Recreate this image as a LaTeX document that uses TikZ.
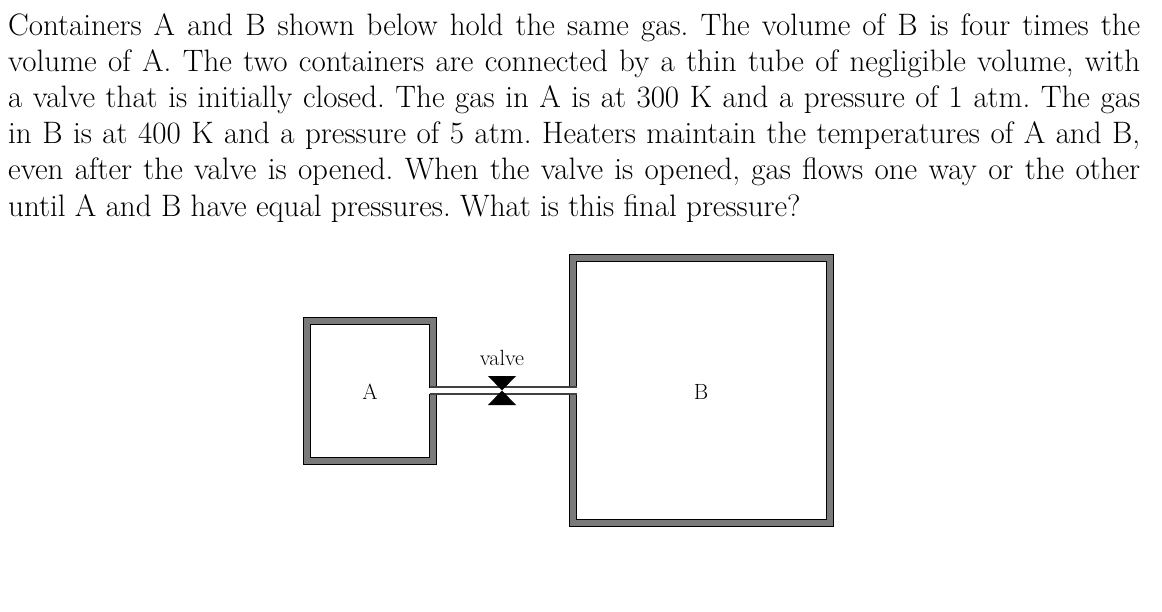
\documentclass[tikz,border=0pt]{standalone}
\begin{document}
\begin{tikzpicture}[x=1pt,y=-1pt,
  wall/.style={draw=black,line width=1pt,fill=black!52},
  cavity/.style={draw=black,line width=1pt,fill=white},
  tube/.style={draw=black!75,line width=1.3pt},
  lbl/.style={font=\fontsize{22}{26}\selectfont,inner sep=0pt}]
\useasboundingbox (0,0) rectangle (1162,612);
\node[anchor=north west,inner sep=0pt,text width=1132pt,align=justify,
  font=\fontsize{31}{36.2}\selectfont\frenchspacing] (txt) at (8,13) {Containers A and B shown below hold the same gas. The volume of B is four times the\linebreak
volume of A. The two containers are connected by a thin tube of negligible volume, with\linebreak
a valve that is initially closed. The gas in A is at 300 K and a pressure of 1 atm. The gas\linebreak
in B is at 400 K and a pressure of 5 atm. Heaters maintain the temperatures of A and B,\linebreak
even after the valve is opened. When the valve is opened, gas flows one way or the other\linebreak
until A and B have equal pressures. What is this final pressure?};
% container A
\draw[wall] (303.5,317.5) rectangle (436.5,464.5);
\draw[cavity] (310.5,324.5) rectangle (429.5,457.5);
% container B
\draw[wall] (569.5,254.5) rectangle (833.5,526.5);
\draw[cavity] (576.5,261.5) rectangle (826.5,519.5);
% openings
\fill[white] (428,387.5) rectangle (438,393.5);
\fill[white] (568,387.5) rectangle (578,393.5);
\coordinate (t1) at (429.5,387);
\coordinate (t2) at (576.5,387);
\coordinate (t3) at (429.5,394);
\coordinate (t4) at (576.5,394);
\draw[tube] (t1) -- (t2);
\draw[tube] (t3) -- (t4);
% valve
\coordinate (v) at (502,390.5);
\fill[black] (488,376) -- (516,376) -- (v) -- cycle;
\fill[black] (488,405) -- (516,405) -- (v) -- cycle;
\node[lbl] (valve) at (502,358) {valve};
\node[lbl] (A) at (370,392) {A};
\node[lbl] (B) at (701,392) {B};
\end{tikzpicture}
\end{document}
